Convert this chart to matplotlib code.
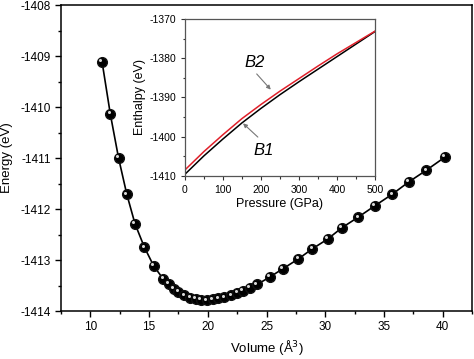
import numpy as np
import matplotlib
matplotlib.use('Agg')
from matplotlib import pyplot as plt
from matplotlib import transforms
from matplotlib.ticker import MultipleLocator

plt.rcParams['font.family'] = ['Liberation Sans', 'DejaVu Sans']
plt.rcParams['axes.unicode_minus'] = False

# E-V data (main plot)
volume = [11.0, 11.7, 12.4, 13.1, 13.8, 14.6, 15.4, 16.2, 16.7, 17.1, 17.5, 18.0,
          18.5, 19.0, 19.4, 19.9, 20.4, 20.9, 21.4, 22.0, 22.5, 23.0, 23.6, 24.2,
          25.3, 26.4, 27.7, 28.9, 30.2, 31.4, 32.8, 34.2, 35.7, 37.1, 38.6, 40.2]
energy = [-1409.12, -1410.14, -1411.00, -1411.71, -1412.29, -1412.75, -1413.12,
          -1413.37, -1413.47, -1413.57, -1413.63, -1413.69, -1413.74, -1413.76,
          -1413.78, -1413.79, -1413.77, -1413.75, -1413.73, -1413.69, -1413.65,
          -1413.60, -1413.54, -1413.48, -1413.33, -1413.17, -1412.98, -1412.78,
          -1412.59, -1412.37, -1412.16, -1411.94, -1411.71, -1411.47, -1411.24,
          -1410.98]

# enthalpy vs pressure (inset)
pressure = [0, 50, 100, 150, 200, 250, 300, 350, 400, 450, 500]
h_b1 = [-1409.6, -1404.9, -1400.6, -1396.5, -1392.8, -1389.3, -1386.0, -1382.8,
        -1379.6, -1376.4, -1373.2]
h_b2 = [-1408.5, -1403.8, -1399.5, -1395.4, -1391.8, -1388.4, -1385.2, -1382.0,
        -1378.9, -1376.0, -1373.1]

fig = plt.figure(figsize=(4.74, 3.59), dpi=100)
ax = fig.add_axes([0.1287, 0.1337, 0.8673, 0.8523])

ax.plot(volume, energy, '-', color='black', lw=1.2, zorder=2)
ax.plot(volume, energy, 'o', color='black', ms=7, mec='#111111', zorder=3)
hl = transforms.offset_copy(ax.transData, fig=fig, x=-1.2, y=1.2, units='points')
ax.plot(volume, energy, 'o', color='#d8d8d8', ms=2.2, mec='none', transform=hl, zorder=4)

ax.set_xlim(7.5, 42.5)
ax.set_ylim(-1414, -1408)
ax.xaxis.set_major_locator(MultipleLocator(5))
ax.xaxis.set_minor_locator(MultipleLocator(2.5))
ax.yaxis.set_major_locator(MultipleLocator(1))
ax.yaxis.set_minor_locator(MultipleLocator(0.5))
ax.set_xticks([10, 15, 20, 25, 30, 35, 40])
ax.tick_params(which='both', direction='out', labelsize=8.5, width=1, top=False, right=False)
ax.tick_params(which='major', length=4)
ax.tick_params(which='minor', length=2.5)
for s in ax.spines.values():
    s.set_linewidth(1.1)
ax.set_xlabel('Volume (Å$^3$)', fontsize=9.5, labelpad=3)
ax.set_ylabel('Energy (eV)', fontsize=9.5, labelpad=5)

# inset
ins = fig.add_axes([0.390, 0.510, 0.401, 0.437])
ins.plot(pressure, h_b1, color='black', lw=1.1)
ins.plot(pressure, h_b2, color='#e0202a', lw=1.1)
ins.set_xlim(0, 500)
ins.set_ylim(-1410, -1370)
ins.xaxis.set_major_locator(MultipleLocator(100))
ins.xaxis.set_minor_locator(MultipleLocator(50))
ins.yaxis.set_major_locator(MultipleLocator(10))
ins.yaxis.set_minor_locator(MultipleLocator(5))
ins.tick_params(which='both', direction='out', labelsize=7.5, width=0.8, colors='#333333')
ins.tick_params(which='major', length=3)
ins.tick_params(which='minor', length=1.8)
ins.tick_params(labelcolor='black')
for s in ins.spines.values():
    s.set_color('#555555')
    s.set_linewidth(0.9)
ins.set_xlabel('Pressure (GPa)', fontsize=9, labelpad=2)
ins.set_ylabel('Enthalpy (eV)', fontsize=9, labelpad=2)

arrow = dict(arrowstyle='-|>', color='#777777', lw=0.8, shrinkA=0, shrinkB=0,
             mutation_scale=6)
ins.text(184, -1381.2, 'B2', fontsize=12, style='italic', ha='center', va='center')
ins.annotate('', xy=(226, -1388.0), xytext=(189, -1384.0), arrowprops=arrow)
ins.text(208, -1403.4, 'B1', fontsize=12, style='italic', ha='center', va='center')
ins.annotate('', xy=(153, -1396.6), xytext=(192, -1400.1), arrowprops=arrow)

fig.savefig('out.png', dpi=100)
